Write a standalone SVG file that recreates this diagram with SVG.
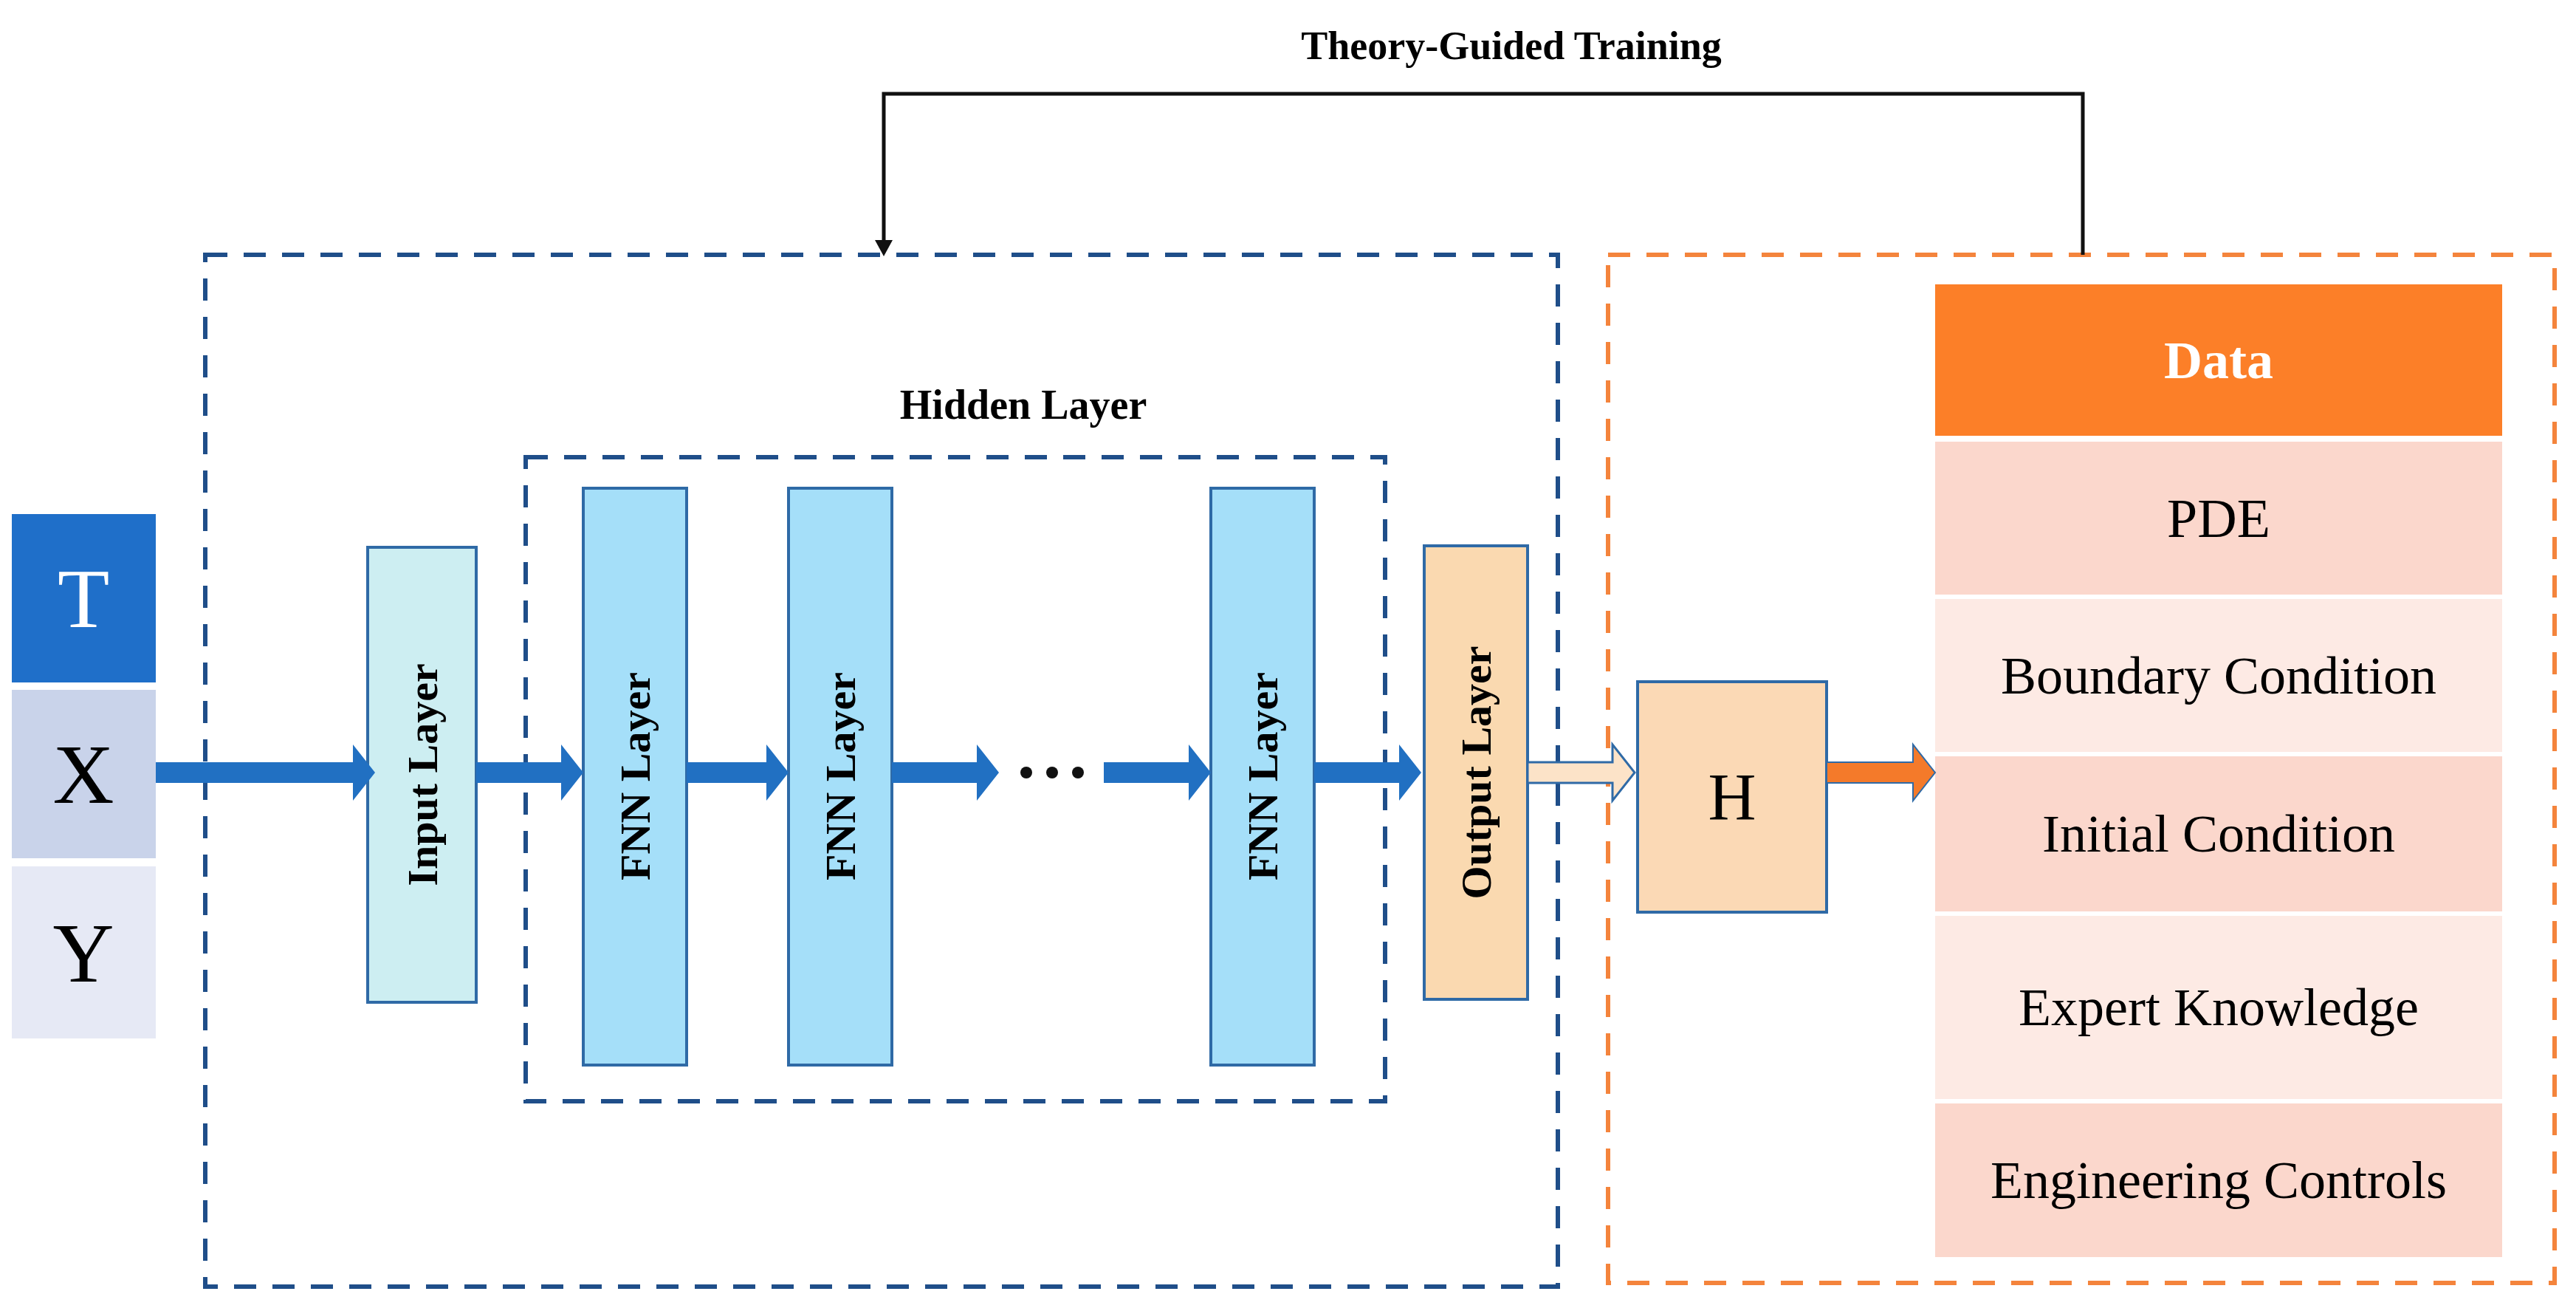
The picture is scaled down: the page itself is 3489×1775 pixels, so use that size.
<svg xmlns="http://www.w3.org/2000/svg" width="3489" height="1775" viewBox="0 0 3489 1775">
<style>
.t{font-family:"Liberation Serif",serif;text-anchor:middle;dominant-baseline:central}
.b{font-weight:bold}
.layer{stroke:#2f6aa6;stroke-width:4}
.arr{fill:#2170c2}
</style>
<rect width="3489" height="1775" fill="#fff"/>
<g id="outer-blue"><rect x="278" y="345" width="1832" height="1397" fill="none" stroke="#1f4e89" stroke-width="6" stroke-dasharray="30,22"/></g>
<g id="outer-orange"><rect x="2178" y="345" width="1282" height="1392" fill="none" stroke="#f4843c" stroke-width="6" stroke-dasharray="30,22"/></g>
<g id="hidden"><rect x="712" y="619" width="1164" height="872" fill="none" stroke="#1f4e89" stroke-width="6" stroke-dasharray="30,22"/>
<text class="t b" x="1386" y="548" font-size="56">Hidden Layer</text></g>
<g id="T"><rect x="16" y="696" width="195" height="228" fill="#1f6fc9"/><text class="t" x="113" y="810" font-size="115" fill="#fff">T</text></g>
<g id="X"><rect x="16" y="934" width="195" height="228" fill="#c9d3ea"/><text class="t" x="113" y="1048" font-size="115">X</text></g>
<g id="Y"><rect x="16" y="1173" width="195" height="233" fill="#e6e9f5"/><text class="t" x="113" y="1290" font-size="115">Y</text></g>
<g id="input"><rect class="layer" x="498" y="741" width="147" height="616" fill="#cdeef2"/><text class="t b" font-size="58" transform="translate(572,1049) rotate(-90)">Input Layer</text></g>
<g id="fnn1"><rect class="layer" x="790" y="661" width="140" height="781" fill="#a5dff9"/><text class="t b" font-size="58" transform="translate(860,1051) rotate(-90)">FNN Layer</text></g>
<g id="fnn2"><rect class="layer" x="1068" y="661" width="140" height="781" fill="#a5dff9"/><text class="t b" font-size="58" transform="translate(1138,1051) rotate(-90)">FNN Layer</text></g>
<g id="fnn3"><rect class="layer" x="1640" y="661" width="140" height="781" fill="#a5dff9"/><text class="t b" font-size="58" transform="translate(1710,1051) rotate(-90)">FNN Layer</text></g>
<g id="output"><rect class="layer" x="1929" y="739" width="140" height="614" fill="#fad9b0"/><text class="t b" font-size="58" transform="translate(1999,1046) rotate(-90)">Output Layer</text></g>
<g id="H"><rect class="layer" x="2218" y="923" width="256" height="312" fill="#fbd9b5"/><text class="t" x="2346" y="1079" font-size="90">H</text></g>
<g id="data">
<rect x="2621" y="385" width="768" height="205" fill="#fc7f28"/><text class="t b" x="3005" y="488" font-size="72" fill="#fff">Data</text>
<rect x="2621" y="598" width="768" height="207" fill="#fbd7cc"/><text class="t" x="3005" y="702" font-size="74">PDE</text>
<rect x="2621" y="811" width="768" height="207" fill="#fdeae4"/><text class="t" x="3005" y="915" font-size="72">Boundary Condition</text>
<rect x="2621" y="1024" width="768" height="210" fill="#fbd7cc"/><text class="t" x="3005" y="1129" font-size="72">Initial Condition</text>
<rect x="2621" y="1240" width="768" height="248" fill="#fdeae4"/><text class="t" x="3005" y="1364" font-size="72">Expert Knowledge</text>
<rect x="2621" y="1494" width="768" height="208" fill="#fbd7cc"/><text class="t" x="3005" y="1598" font-size="72">Engineering Controls</text>
</g>
<g id="connectors">
<path class="arr" d="M211 1032H478V1008L508 1046L478 1084V1060H211Z"/>
<path class="arr" d="M645 1032H760V1008L790 1046L760 1084V1060H645Z"/>
<path class="arr" d="M930 1032H1038V1008L1068 1046L1038 1084V1060H930Z"/>
<path class="arr" d="M1208 1032H1323V1008L1353 1046L1323 1084V1060H1208Z"/>
<circle cx="1390" cy="1046" r="8" fill="#111"/><circle cx="1425" cy="1046" r="8" fill="#111"/><circle cx="1460" cy="1046" r="8" fill="#111"/>
<path class="arr" d="M1495 1032H1610V1008L1640 1046L1610 1084V1060H1495Z"/>
<path class="arr" d="M1780 1032H1895V1008L1925 1046L1895 1084V1060H1780Z"/>
<path d="M2069 1032H2184V1008L2214 1046L2184 1084V1060H2069Z" fill="#fce3c8" stroke="#2f6aa6" stroke-width="3"/>
<path d="M2474 1032H2591V1008L2621 1046L2591 1084V1060H2474Z" fill="#f47a2a" stroke="#2f6aa6" stroke-width="2"/>
<path d="M2821 345V127H1197V330" fill="none" stroke="#111" stroke-width="5"/>
<path d="M1185 325L1197 347L1209 325Z" fill="#111"/>
<text class="t b" x="2047" y="62" font-size="54">Theory-Guided Training</text>
</g>
</svg>
